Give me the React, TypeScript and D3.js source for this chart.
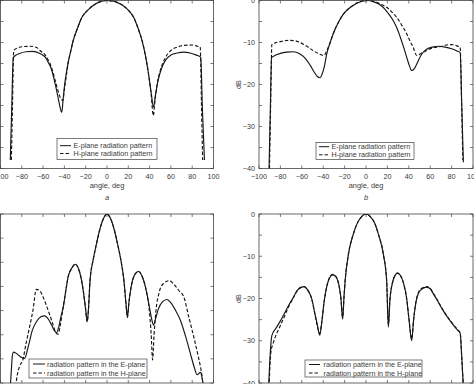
import React from 'react';
import * as d3 from 'd3';

type Pt = [number, number];

// ---------- tick values ----------
const angleTicks = [-100, -80, -60, -40, -20, 0, 20, 40, 60, 80, 100];
const angleLabels = ['\u2212100', '\u221280', '\u221260', '\u221240', '\u221220', '0', '20', '40', '60', '80', '100'];
const dbMinor40 = [0, -5, -10, -15, -20, -25, -30, -35, -40];
const dbMajor40 = [0, -10, -20, -30, -40];
const dbMinor35 = [0, -5, -10, -15, -20, -25, -30, -35];
const dbMajor35 = [0, -10, -20, -30];

// ---------- panel a ----------
const aEPlane: Pt[] = [
  [-90.8, -38], [-89.5, -26], [-88, -13.6], [-86, -13.1], [-82, -12.6], [-76, -12.2], [-70, -12.1],
  [-63, -12.6], [-58, -13.5], [-55, -14.8], [-52, -16.5], [-49, -19.5], [-46, -23], [-44, -25.5],
  [-42.5, -26.6], [-41, -23], [-39.5, -19.5], [-38, -17], [-36.5, -14.8], [-34, -12], [-32, -9.8],
  [-28, -6.8], [-23.5, -4], [-18, -2.3], [-13, -1.2], [-8, -0.45], [-4, -0.1], [0, 0], [5, -0.1],
  [10, -0.5], [15, -1.2], [20, -2.3], [25, -4], [29, -6.5], [33, -9.6], [36, -13], [39, -17.5],
  [41.5, -22], [43.7, -25.4], [45.5, -22.5], [48, -19], [51, -16.3], [55, -14.2], [60, -13],
  [66, -12.5], [72, -12.3], [78, -12.5], [84, -13], [88, -13.5], [89.6, -26], [91.5, -38],
];
const aHPlane: Pt[] = [
  [-89.8, -38], [-88.8, -26], [-87.5, -11.9], [-84, -11.3], [-80, -11.0], [-72, -10.9], [-66, -11.2],
  [-63, -11.9], [-58, -13], [-55, -14.3], [-52, -16], [-49, -18.7], [-46, -21.5], [-43.5, -23.3],
  [-41.5, -23.8], [-40, -21.2], [-38.5, -18.5], [-36.5, -14.9], [-34, -12], [-32, -9.8],
  [-28, -6.8], [-23.5, -4], [-18, -2.3], [-13, -1.2], [-8, -0.45], [-4, -0.1], [0, 0], [5, -0.1],
  [10, -0.5], [15, -1.2], [20, -2.3], [25, -4], [29, -6.5], [33, -9.6], [36, -13], [39, -17.5],
  [41.5, -22.5], [43.5, -27.4], [45, -24], [47, -20], [50, -16.7], [55, -13.5], [60, -11.9],
  [66, -11.1], [72, -10.7], [80, -10.6], [85, -10.9], [87.5, -11.1], [88.8, -26], [89.8, -38],
];

// ---------- panel b ----------
const bEPlane: Pt[] = [
  [-90.6, -40], [-89.5, -27], [-88.2, -13.6], [-86, -13.2], [-80, -12.6], [-74, -12.3], [-68, -12.2],
  [-62, -12.7], [-56, -14], [-52, -15.5], [-48, -17.2], [-45.5, -18.1], [-43, -18.4], [-41, -17.5],
  [-39, -15.8], [-36.7, -12.7], [-33.5, -10], [-30.6, -7.9], [-26, -5.3], [-21, -3.2], [-16, -1.9],
  [-12, -1.2], [-7, -0.5], [-3, -0.1], [2, 0], [6, -0.2], [10, -0.6], [13, -1.0], [16, -1.6],
  [20, -2.8], [25.5, -4.8], [29, -6.6], [32, -8.7], [35, -11], [38, -13.5], [40.5, -15.5],
  [42.7, -16.7], [45, -16.3], [48, -14.8], [52, -12.8], [56, -11.7], [62, -11.1], [68, -10.9],
  [74, -11.1], [80, -11.5], [85, -12], [88, -12.4], [89.5, -25], [91, -38.5],
];
const bHPlane: Pt[] = [
  [-90.2, -40], [-89.2, -26], [-88, -10.5], [-85, -10.1], [-80, -9.8], [-72, -9.5], [-66, -9.6],
  [-61.7, -10], [-56, -10.8], [-49.5, -11.9], [-44, -12.7], [-39.5, -13.1], [-37, -12.2], [-35, -11],
  [-32.5, -9.3], [-30.6, -7.9], [-26, -5.3], [-21, -3.2], [-16, -1.9], [-12, -1.1], [-7, -0.4],
  [-3, -0.1], [2, 0], [6, -0.1], [10, -0.4], [14, -0.9], [19.3, -1.6], [24, -2.7], [28.7, -4],
  [33, -5.7], [38, -7.9], [41, -9.6], [44, -11.1], [47.5, -13.1], [52, -12.5], [56.7, -11.9],
  [62, -11.3], [69, -11], [75, -10.6], [80, -10.5], [85, -10.8], [88, -11.2], [89.3, -24], [90.5, -38],
];

// ---------- panel c ----------
const cEPlane: Pt[] = [
  [-91.5, -38], [-90, -33], [-88.8, -29.2], [-87.7, -28.6], [-85, -28.9], [-81, -29.6], [-77.4, -29.9],
  [-74, -27.5], [-70, -24], [-66, -22.2], [-62, -21.3], [-58.5, -21.1], [-55, -21.8], [-52, -23],
  [-49.5, -24.1], [-47.5, -24.6], [-45.5, -23.6], [-43, -21], [-41, -19.2], [-38.5, -15.6],
  [-36.5, -13], [-33, -11.2], [-30, -10.4], [-26, -11.8], [-22.4, -15.7], [-20.2, -19.5],
  [-18.6, -22.3], [-17.2, -19], [-16, -14], [-13, -9.5], [-10, -6.3], [-6.5, -3], [-3, -0.8],
  [0, 0], [3, -0.8], [6.5, -3], [10, -6.3], [13, -9.5], [16, -14], [17.8, -18.5], [19.2, -21.4],
  [20.5, -18.5], [22, -16], [25.5, -12.8], [29.6, -11.9], [33.5, -13.2], [37, -16], [40, -19.5],
  [42, -21.8], [43.7, -23], [45.5, -21.8], [48, -19.8], [52, -18.2], [56.3, -17.7], [60, -18.4],
  [64, -19.8], [68.9, -22], [74, -25.5], [78.3, -28.9], [82, -31.8], [84.6, -33.3], [87.7, -32.8],
  [89.3, -34], [92, -38],
];
const cHPlane: Pt[] = [
  [-86.5, -38], [-85, -34.5], [-82, -31.5], [-79, -30.2], [-76, -26.8], [-72.6, -23.3], [-69.5, -19.9],
  [-66.4, -15.6], [-63, -15.9], [-60, -17.2], [-56, -19.5], [-52, -22], [-48.5, -24.3], [-46, -24.9],
  [-44, -23.2], [-41.5, -19.8], [-38.5, -15.6], [-36.5, -13], [-33, -11.2], [-30, -10.4],
  [-26, -11.8], [-22.4, -15.7], [-20.2, -19.5], [-18.6, -22.3], [-17.2, -19], [-16, -14],
  [-13, -9.5], [-10, -6.3], [-6.5, -3], [-3, -0.8], [0, 0], [3, -0.8], [6.5, -3], [10, -6.3],
  [13, -9.5], [16, -14], [17.8, -18.5], [19.2, -21.4], [20.5, -18.5], [22, -16], [25.5, -12.8],
  [29.6, -11.9], [33.5, -13.2], [37, -16], [39.5, -19.5], [41.5, -25], [42.8, -30.2], [44.2, -25],
  [46, -20], [49, -16.2], [53, -14.4], [58.5, -13.8], [63, -14.6], [68, -16], [72, -17.1],
  [77, -21.5], [81.4, -25.4], [85, -28.8], [87.7, -31.6], [89.5, -34], [91, -38],
];

// ---------- panel d ----------
const dEPlane: Pt[] = [
  [-91, -41], [-89.5, -33], [-88, -28.8], [-84, -27], [-80, -25.3], [-77, -23.9], [-72, -21.5],
  [-67.6, -19.6], [-64, -18], [-60, -17.3], [-58, -17.2], [-54, -18.2], [-51, -19.8], [-47.4, -24],
  [-45.5, -26.2], [-43.3, -28.7], [-41.5, -26], [-39, -20.5], [-36, -16.5], [-33, -14.7], [-31, -14.4],
  [-28, -14.9], [-25.5, -16.6], [-23.5, -19.8], [-21.8, -24.9], [-20.6, -19.8], [-19.5, -15.8],
  [-16.4, -9.5], [-11.8, -4.7], [-8, -2.1], [-4, -0.6], [0, 0], [4, -0.6], [8, -2.1], [11.5, -4.7],
  [16.2, -9.5], [19.3, -15.8], [20.9, -26.8], [22.3, -20.5], [25, -16], [27.5, -14.4], [29.3, -14],
  [32, -14.5], [35, -16.3], [38, -20], [40, -24.5], [42.7, -30], [44.5, -25], [47, -20.5], [51, -18],
  [56.7, -17.3], [60, -17.7], [63, -18.9], [67, -20.6], [71, -22.4], [75, -24], [79, -25.4],
  [83, -26.7], [86, -27.6], [88, -28.2], [89.5, -34], [91, -41],
];
const dHPlane: Pt[] = [
  [-90.6, -41], [-89, -33], [-86.3, -30.2], [-84, -28.6], [-80, -26.4], [-77, -24.7], [-72, -21.8],
  [-67.6, -19.7], [-64, -18], [-60, -17.3], [-58, -17.2], [-54, -18.2], [-51, -19.9], [-47.4, -24.2],
  [-45.5, -26.5], [-43.3, -28.3], [-41.5, -25.8], [-39, -20.5], [-36, -16.4], [-33, -14.6], [-31, -14.3],
  [-28, -14.8], [-25.5, -16.6], [-23.5, -19.8], [-21.8, -24.4], [-20.6, -19.8], [-19.5, -15.8],
  [-16.4, -9.5], [-11.8, -4.7], [-8, -2.1], [-4, -0.6], [0, 0], [4, -0.6], [8, -2.1], [11.5, -4.7],
  [16.2, -9.5], [19.3, -15.8], [20.9, -26.2], [22.3, -20.5], [25, -16], [27.5, -14.4], [29.3, -14],
  [32, -14.5], [35, -16.3], [38, -20], [40, -24.5], [42.7, -29.5], [44.5, -25], [47, -20.3], [51, -17.8],
  [56.7, -17.2], [60, -17.6], [63, -18.8], [67, -20.5], [71, -22.3], [75, -23.9], [79, -25.3],
  [83, -26.6], [86, -27.5], [88, -28.1], [89.5, -34], [91, -41],
];

const legendTop = ['E-plane radiation pattern', 'H-plane radiation pattern'];
const legendBottom = ['radiation pattern in the E-plane', 'radiation pattern in the H-plane'];

const FONT = '"Liberation Sans", Arial, Helvetica, sans-serif';
const TXT = '#3a3a3a';
const AX = '#444';
const LINE = '#161616';

interface PanelProps {
  id: string;
  x0: number; x1: number; y0: number; y1: number;
  yMin: number;
  minor: number[];
  major: number[];
  e: Pt[]; h: Pt[];
  legend: string[];
  lg: { x: number; y: number; w: number; h: number; r1: number; r2: number; lx0: number; lx1: number; tx: number };
  caption: string;
  showY: boolean;
  showX: boolean;
}

function Panel(p: PanelProps) {
  const x = d3.scaleLinear().domain([-100, 100]).range([p.x0, p.x1]);
  const y = d3.scaleLinear().domain([p.yMin, 0]).range([p.y1, p.y0]);
  const line = d3.line<Pt>().x(d => x(d[0])).y(d => y(d[1])).curve(d3.curveMonotoneX);
  const tl = 3;
  const cx = (p.x0 + p.x1) / 2;
  return (
    <g>
      <defs>
        <clipPath id={`clip-${p.id}`}>
          <rect x={p.x0} y={p.y0} width={p.x1 - p.x0} height={p.y1 - p.y0} />
        </clipPath>
      </defs>
      <rect x={p.x0} y={p.y0} width={p.x1 - p.x0} height={p.y1 - p.y0} fill="#fff" stroke={AX} strokeWidth={0.8} />
      {angleTicks.map(t => (
        <g key={`xt${t}`}>
          <line x1={x(t)} x2={x(t)} y1={p.y1} y2={p.y1 - tl} stroke={AX} strokeWidth={0.7} />
          <line x1={x(t)} x2={x(t)} y1={p.y0} y2={p.y0 + tl} stroke={AX} strokeWidth={0.7} />
        </g>
      ))}
      {p.minor.map(t => (
        <g key={`yt${t}`}>
          <line x1={p.x0} x2={p.x0 + tl} y1={y(t)} y2={y(t)} stroke={AX} strokeWidth={0.7} />
          <line x1={p.x1} x2={p.x1 - tl} y1={y(t)} y2={y(t)} stroke={AX} strokeWidth={0.7} />
        </g>
      ))}
      {p.showX && angleTicks.map((t, i) => (
        <text key={`xl${t}`} x={x(t)} y={p.y1 + 10.5} textAnchor="middle" fontSize={7.2} fill={TXT} fontFamily={FONT}>
          {angleLabels[i]}
        </text>
      ))}
      {p.showY && p.major.map(t => (
        <text key={`yl${t}`} x={p.x0 - 4} y={y(t) + 2.5} textAnchor="end" fontSize={7.2} fill={TXT} fontFamily={FONT}>
          {t === 0 ? '0' : `\u2212${Math.abs(t)}`}
        </text>
      ))}
      {p.showY && (
        <text transform={`translate(${p.x0 - 18},${(p.y0 + p.y1) / 2}) rotate(-90)`} textAnchor="middle" fontSize={7.2} fill={TXT} fontFamily={FONT}>dB</text>
      )}
      {p.showX && (
        <text x={cx} y={p.y1 + 19.5} textAnchor="middle" fontSize={7.4} fill={TXT} fontFamily={FONT}>angle, deg</text>
      )}
      {p.showX && (
        <text x={cx} y={p.y1 + 31} textAnchor="middle" fontSize={7.4} fontStyle="italic" fill={TXT} fontFamily={FONT}>{p.caption}</text>
      )}
      <g clipPath={`url(#clip-${p.id})`}>
        <path d={line(p.h) || ''} fill="none" stroke={LINE} strokeWidth={1.15} strokeDasharray="3.5,2" />
        <path d={line(p.e) || ''} fill="none" stroke={LINE} strokeWidth={1.15} />
      </g>
      <rect x={p.lg.x} y={p.lg.y} width={p.lg.w} height={p.lg.h} fill="#fff" stroke={AX} strokeWidth={0.7} />
      <line x1={p.lg.lx0} x2={p.lg.lx1} y1={p.lg.r1} y2={p.lg.r1} stroke={LINE} strokeWidth={1} />
      <line x1={p.lg.lx0} x2={p.lg.lx1} y1={p.lg.r2} y2={p.lg.r2} stroke={LINE} strokeWidth={1} strokeDasharray="3.5,2" />
      <text x={p.lg.tx} y={p.lg.r1 + 2.5} fontSize={7.2} fill={TXT} fontFamily={FONT}>{p.legend[0]}</text>
      <text x={p.lg.tx} y={p.lg.r2 + 2.5} fontSize={7.2} fill={TXT} fontFamily={FONT}>{p.legend[1]}</text>
    </g>
  );
}

export default function App() {
  return (
    <svg width={474} height={384} viewBox="0 0 474 384" style={{ position: 'absolute', left: 0, top: 0, background: '#fff' }}>
      <rect width={474} height={384} fill="#fff" />
      <Panel id="a" x0={0.5} x1={213.5} y0={0.5} y1={168.5} yMin={-40} minor={dbMinor40} major={dbMajor40}
        e={aEPlane} h={aHPlane} legend={legendTop} caption="a" showY={false} showX={true}
        lg={{ x: 57, y: 138.5, w: 100, h: 21, r1: 145.7, r2: 153.5, lx0: 60, lx1: 71, tx: 73.5 }} />
      <Panel id="b" x0={259} x1={473} y0={0.5} y1={168.5} yMin={-40} minor={dbMinor40} major={dbMajor40}
        e={bEPlane} h={bHPlane} legend={legendTop} caption="b" showY={true} showX={true}
        lg={{ x: 316, y: 142.5, w: 98, h: 17, r1: 146.7, r2: 154.8, lx0: 319, lx1: 329, tx: 331.5 }} />
      <Panel id="c" x0={0.5} x1={213.5} y0={214} y1={383} yMin={-35} minor={dbMinor35} major={dbMajor35}
        e={cEPlane} h={cHPlane} legend={legendBottom} caption="c" showY={false} showX={false}
        lg={{ x: 29, y: 359, w: 118, h: 19, r1: 364, r2: 373, lx0: 33, lx1: 45, tx: 47 }} />
      <Panel id="d" x0={259} x1={473} y0={214} y1={383} yMin={-40} minor={dbMinor40} major={dbMajor40}
        e={dEPlane} h={dHPlane} legend={legendBottom} caption="d" showY={true} showX={false}
        lg={{ x: 305, y: 360, w: 117, h: 17, r1: 364.5, r2: 373, lx0: 309, lx1: 320, tx: 323.5 }} />
    </svg>
  );
}
